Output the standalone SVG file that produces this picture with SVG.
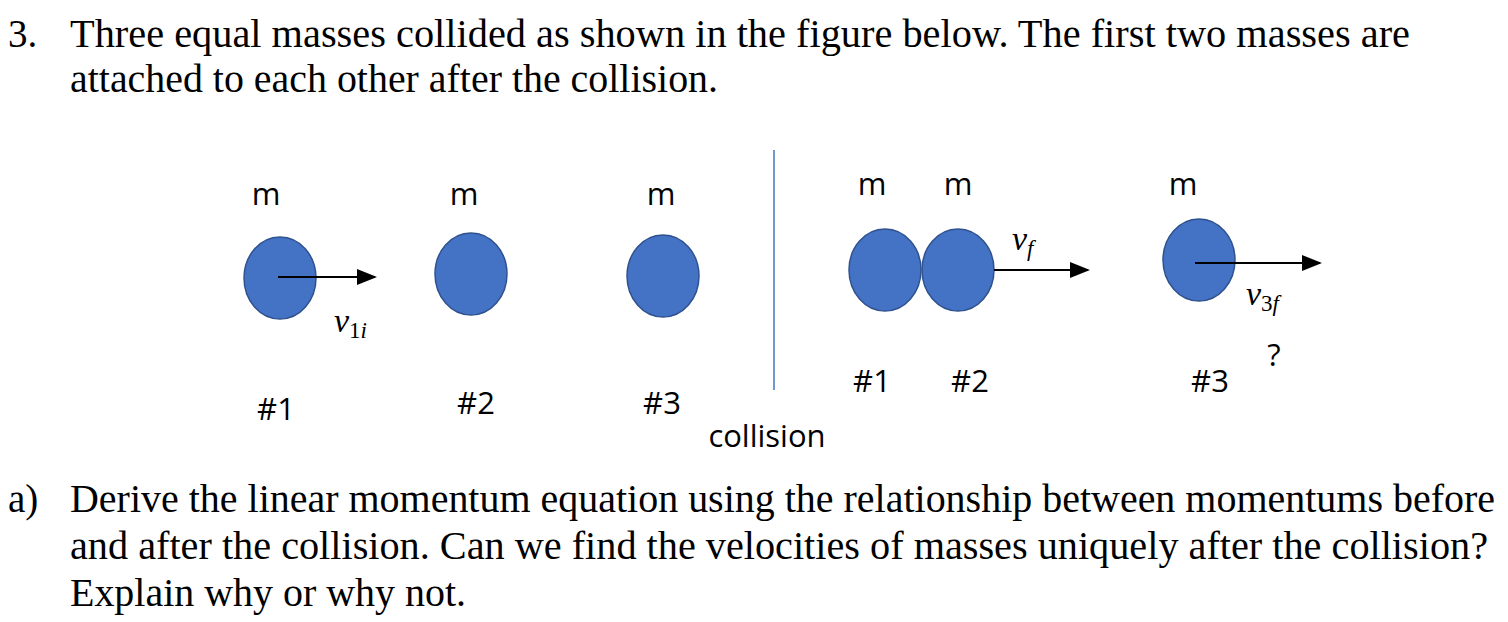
<svg xmlns="http://www.w3.org/2000/svg" width="1508" height="622" viewBox="0 0 1508 622">
<style>
.t{font-family:"Liberation Serif",serif;font-size:39px;fill:#000}
.s{font-family:"Open Sans","Noto Sans",sans-serif;font-size:31px;fill:#000;text-anchor:middle}
.v{font-family:"Liberation Serif",serif;font-style:italic;font-size:34px;fill:#000}
.b{fill:#4472c4;stroke:#2f528f;stroke-width:1.5}
.a{stroke:#000;stroke-width:2;marker-end:url(#ah)}
</style>
<defs><marker id="ah" markerWidth="10" markerHeight="8" refX="9" refY="4" orient="auto" markerUnits="strokeWidth"><path d="M0,0L10,4L0,8z" fill="#000"/></marker></defs>
<rect width="1508" height="622" fill="#fff"/>
<text class="t" x="8" y="47">3.</text>
<text class="t" x="70" y="47" textLength="1340" lengthAdjust="spacingAndGlyphs">Three equal masses collided as shown in the figure below.  The first two masses are</text>
<text class="t" x="70" y="92" textLength="648" lengthAdjust="spacingAndGlyphs">attached to each other after the collision.</text>
<text class="t" x="8" y="512">a)</text>
<text class="t" x="70" y="512" textLength="1425" lengthAdjust="spacingAndGlyphs">Derive the linear momentum equation using the relationship between momentums before</text>
<text class="t" x="70" y="559" textLength="1418" lengthAdjust="spacingAndGlyphs">and after the collision.  Can we find the velocities of masses uniquely after the collision?</text>
<text class="t" x="70" y="606" textLength="396" lengthAdjust="spacingAndGlyphs">Explain why or why not.</text>
<g id="n1"><ellipse class="b" cx="280" cy="278" rx="36" ry="41"/><text class="s" x="266" y="205">m</text><text class="s" x="276" y="420">#1</text></g>
<g id="n2"><ellipse class="b" cx="471" cy="274" rx="36" ry="41"/><text class="s" x="464" y="205">m</text><text class="s" x="476" y="414">#2</text></g>
<g id="n3"><ellipse class="b" cx="663" cy="276" rx="36" ry="41"/><text class="s" x="661" y="205">m</text><text class="s" x="662" y="414">#3</text></g>
<g id="n4"><ellipse class="b" cx="885" cy="270" rx="36" ry="41"/><text class="s" x="872" y="195">m</text><text class="s" x="872" y="392">#1</text></g>
<g id="n5"><ellipse class="b" cx="958" cy="270" rx="36" ry="41"/><text class="s" x="958" y="195">m</text><text class="s" x="970" y="392">#2</text></g>
<g id="n6"><ellipse class="b" cx="1199" cy="260" rx="36" ry="41"/><text class="s" x="1183" y="195">m</text><text class="s" x="1210" y="392">#3</text></g>
<g id="connectors">
<line x1="774" y1="150" x2="774" y2="390" stroke="#4472c4" stroke-width="1.5"/>
<line class="a" x1="278" y1="277" x2="375" y2="277"/>
<line class="a" x1="994" y1="270" x2="1088" y2="270"/>
<line class="a" x1="1195" y1="263" x2="1320" y2="263"/>
</g>
<text class="v" x="334" y="332">v<tspan font-size="23" font-style="normal" dy="6">1</tspan><tspan font-size="23">i</tspan></text>
<text class="v" x="1012" y="250">v<tspan font-size="23" dy="6">f</tspan></text>
<text class="v" x="1246" y="305">v<tspan font-size="23" font-style="normal" dy="6">3</tspan><tspan font-size="23">f</tspan></text>
<text class="s" x="1274" y="366" font-size="25">?</text>
<text class="s" x="767" y="447">collision</text>
</svg>
